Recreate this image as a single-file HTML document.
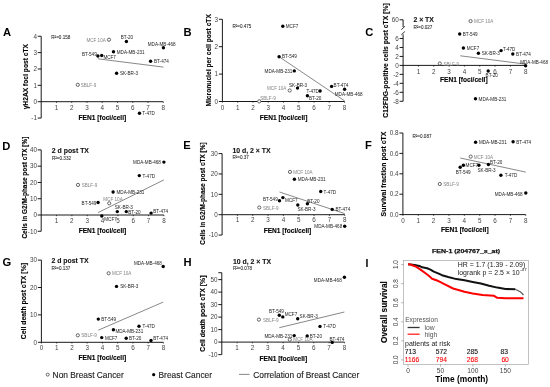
<!DOCTYPE html><html><head><meta charset="utf-8"><style>html,body{margin:0;padding:0;background:#fff;}svg{display:block;filter:blur(0.3px);}</style></head><body>
<svg width="550" height="387" viewBox="0 0 550 387" font-family='"Liberation Sans", sans-serif'>
<style>.ax{font-weight:bold;fill:#000;stroke:#000;stroke-width:0.12px}.lb{fill:#222}.lg{fill:#858585}.tk{fill:#444}.r2{fill:#222;stroke:#222;stroke-width:0.05px}.tt{font-weight:bold;fill:#111;stroke:#111;stroke-width:0.1px}</style>
<rect width="550" height="387" fill="#fff"/>
<text x="3" y="35.92" font-size="11.2" font-weight="bold" fill="#000">A</text>
<line x1="41.2" y1="36.26" x2="41.2" y2="118.06" stroke="#000" stroke-width="0.9"/>
<line x1="37.7" y1="36.26" x2="41.2" y2="36.26" stroke="#000" stroke-width="0.9"/>
<text class="tk" x="36.9" y="38.53" font-size="6.3" text-anchor="end">4</text>
<line x1="37.7" y1="52.62" x2="41.2" y2="52.62" stroke="#000" stroke-width="0.9"/>
<text class="tk" x="36.9" y="54.89" font-size="6.3" text-anchor="end">3</text>
<line x1="37.7" y1="68.98" x2="41.2" y2="68.98" stroke="#000" stroke-width="0.9"/>
<text class="tk" x="36.9" y="71.25" font-size="6.3" text-anchor="end">2</text>
<line x1="37.7" y1="85.34" x2="41.2" y2="85.34" stroke="#000" stroke-width="0.9"/>
<text class="tk" x="36.9" y="87.61" font-size="6.3" text-anchor="end">1</text>
<line x1="37.7" y1="101.7" x2="41.2" y2="101.7" stroke="#000" stroke-width="0.9"/>
<text class="tk" x="36.9" y="103.97" font-size="6.3" text-anchor="end">0</text>
<line x1="37.7" y1="118.06" x2="41.2" y2="118.06" stroke="#000" stroke-width="0.9"/>
<text class="tk" x="36.9" y="120.33" font-size="6.3" text-anchor="end">-1</text>
<line x1="41.2" y1="101.7" x2="163.28" y2="101.7" stroke="#000" stroke-width="0.9"/>
<line x1="56.46" y1="101.7" x2="56.46" y2="102.9" stroke="#000" stroke-width="0.7"/>
<text class="tk" x="56.46" y="109.87" font-size="6.3" text-anchor="middle">1</text>
<line x1="71.72" y1="101.7" x2="71.72" y2="102.9" stroke="#000" stroke-width="0.7"/>
<text class="tk" x="71.72" y="109.87" font-size="6.3" text-anchor="middle">2</text>
<line x1="86.98" y1="101.7" x2="86.98" y2="102.9" stroke="#000" stroke-width="0.7"/>
<text class="tk" x="86.98" y="109.87" font-size="6.3" text-anchor="middle">3</text>
<line x1="102.24" y1="101.7" x2="102.24" y2="102.9" stroke="#000" stroke-width="0.7"/>
<text class="tk" x="102.24" y="109.87" font-size="6.3" text-anchor="middle">4</text>
<line x1="117.5" y1="101.7" x2="117.5" y2="102.9" stroke="#000" stroke-width="0.7"/>
<text class="tk" x="117.5" y="109.87" font-size="6.3" text-anchor="middle">5</text>
<line x1="132.76" y1="101.7" x2="132.76" y2="102.9" stroke="#000" stroke-width="0.7"/>
<text class="tk" x="132.76" y="109.87" font-size="6.3" text-anchor="middle">6</text>
<line x1="148.02" y1="101.7" x2="148.02" y2="102.9" stroke="#000" stroke-width="0.7"/>
<text class="tk" x="148.02" y="109.87" font-size="6.3" text-anchor="middle">7</text>
<line x1="163.28" y1="101.7" x2="163.28" y2="102.9" stroke="#000" stroke-width="0.7"/>
<text class="tk" x="163.28" y="109.87" font-size="6.3" text-anchor="middle">8</text>
<text class="ax" transform="translate(27.91,76.65) rotate(-90)" font-size="6.7" text-anchor="middle">γH2AX foci post cTX</text>
<text class="ax" x="102.4" y="119.88" font-size="6.6" text-anchor="middle">FEN1 [foci/cell]</text>
<text class="r2" x="51.3" y="38.96" font-size="4.6">R²=0.158</text>
<line x1="97.9" y1="58.8" x2="163.4" y2="67.1" stroke="#555" stroke-width="0.7"/>
<circle cx="109" cy="39.7" r="1.6" fill="#fff" stroke="#555" stroke-width="0.9"/>
<text class="lg" x="105.8" y="41.76" font-size="4.6" text-anchor="end">MCF 10A</text>
<circle cx="126.4" cy="41.5" r="1.7" fill="#000"/>
<text class="lb" x="120.8" y="38.86" font-size="4.6">BT-20</text>
<circle cx="163.4" cy="47.7" r="1.7" fill="#000"/>
<text class="lb" x="147.8" y="45.76" font-size="4.6">MDA-MB-468</text>
<circle cx="113.5" cy="51.7" r="1.7" fill="#000"/>
<text class="lb" x="116.8" y="53.76" font-size="4.6">MDA-MB-231</text>
<circle cx="97.9" cy="56" r="1.7" fill="#000"/>
<text class="lb" x="96.7" y="56.36" font-size="4.6" text-anchor="end">BT-549</text>
<circle cx="101.7" cy="55.5" r="1.7" fill="#000"/>
<text class="lb" x="103.4" y="59.46" font-size="4.6">MCF7</text>
<circle cx="150.6" cy="61.2" r="1.7" fill="#000"/>
<text class="lb" x="154" y="63.26" font-size="4.6">BT-474</text>
<circle cx="116.6" cy="73.2" r="1.7" fill="#000"/>
<text class="lb" x="119.9" y="75.26" font-size="4.6">SK-BR-3</text>
<circle cx="77.8" cy="84.8" r="1.6" fill="#fff" stroke="#555" stroke-width="0.9"/>
<text class="lg" x="80.7" y="86.86" font-size="4.6">SBLF-9</text>
<circle cx="139.5" cy="113.3" r="1.7" fill="#000"/>
<text class="lb" x="142.3" y="115.36" font-size="4.6">T-47D</text>
<text x="183.5" y="35.92" font-size="11.2" font-weight="bold" fill="#000">B</text>
<line x1="222.4" y1="19.3" x2="222.4" y2="101.5" stroke="#000" stroke-width="0.9"/>
<line x1="218.9" y1="19.3" x2="222.4" y2="19.3" stroke="#000" stroke-width="0.9"/>
<text class="tk" x="218.1" y="21.57" font-size="6.3" text-anchor="end">3</text>
<line x1="218.9" y1="46.7" x2="222.4" y2="46.7" stroke="#000" stroke-width="0.9"/>
<text class="tk" x="218.1" y="48.97" font-size="6.3" text-anchor="end">2</text>
<line x1="218.9" y1="74.1" x2="222.4" y2="74.1" stroke="#000" stroke-width="0.9"/>
<text class="tk" x="218.1" y="76.37" font-size="6.3" text-anchor="end">1</text>
<line x1="218.9" y1="101.5" x2="222.4" y2="101.5" stroke="#000" stroke-width="0.9"/>
<text class="tk" x="218.1" y="103.77" font-size="6.3" text-anchor="end">0</text>
<line x1="222.4" y1="101.5" x2="344.56" y2="101.5" stroke="#000" stroke-width="0.9"/>
<line x1="222.4" y1="101.5" x2="222.4" y2="102.7" stroke="#000" stroke-width="0.7"/>
<text class="tk" x="222.4" y="109.77" font-size="6.3" text-anchor="middle">0</text>
<line x1="237.67" y1="101.5" x2="237.67" y2="102.7" stroke="#000" stroke-width="0.7"/>
<text class="tk" x="237.67" y="109.77" font-size="6.3" text-anchor="middle">1</text>
<line x1="252.94" y1="101.5" x2="252.94" y2="102.7" stroke="#000" stroke-width="0.7"/>
<text class="tk" x="252.94" y="109.77" font-size="6.3" text-anchor="middle">2</text>
<line x1="268.21" y1="101.5" x2="268.21" y2="102.7" stroke="#000" stroke-width="0.7"/>
<text class="tk" x="268.21" y="109.77" font-size="6.3" text-anchor="middle">3</text>
<line x1="283.48" y1="101.5" x2="283.48" y2="102.7" stroke="#000" stroke-width="0.7"/>
<text class="tk" x="283.48" y="109.77" font-size="6.3" text-anchor="middle">4</text>
<line x1="298.75" y1="101.5" x2="298.75" y2="102.7" stroke="#000" stroke-width="0.7"/>
<text class="tk" x="298.75" y="109.77" font-size="6.3" text-anchor="middle">5</text>
<line x1="314.02" y1="101.5" x2="314.02" y2="102.7" stroke="#000" stroke-width="0.7"/>
<text class="tk" x="314.02" y="109.77" font-size="6.3" text-anchor="middle">6</text>
<line x1="329.29" y1="101.5" x2="329.29" y2="102.7" stroke="#000" stroke-width="0.7"/>
<text class="tk" x="329.29" y="109.77" font-size="6.3" text-anchor="middle">7</text>
<line x1="344.56" y1="101.5" x2="344.56" y2="102.7" stroke="#000" stroke-width="0.7"/>
<text class="tk" x="344.56" y="109.77" font-size="6.3" text-anchor="middle">8</text>
<text class="ax" transform="translate(210.51,60.35) rotate(-90)" font-size="6.7" text-anchor="middle">Micronuclei per cell post cTX</text>
<text class="ax" x="283.6" y="119.78" font-size="6.6" text-anchor="middle">FEN1 [foci/cell]</text>
<text class="r2" x="232.4" y="28.26" font-size="4.6">R²=0.475</text>
<line x1="279.1" y1="56.7" x2="344.6" y2="100.9" stroke="#555" stroke-width="0.7"/>
<circle cx="282.8" cy="26.3" r="1.7" fill="#000"/>
<text class="lb" x="285.8" y="28.36" font-size="4.6">MCF7</text>
<circle cx="279.1" cy="56.7" r="1.7" fill="#000"/>
<text class="lb" x="282" y="57.76" font-size="4.6">BT-549</text>
<circle cx="294.3" cy="70.9" r="1.7" fill="#000"/>
<text class="lb" x="292.4" y="72.96" font-size="4.6" text-anchor="end">MDA-MB-231</text>
<circle cx="297.5" cy="88.1" r="1.7" fill="#000"/>
<text class="lb" x="289" y="86.86" font-size="4.6">SK-BR-3</text>
<circle cx="289.7" cy="90.5" r="1.6" fill="#fff" stroke="#555" stroke-width="0.9"/>
<text class="lg" x="286.4" y="90.26" font-size="4.6" text-anchor="end">MCF 10A</text>
<circle cx="320.1" cy="91" r="1.7" fill="#000"/>
<text class="lb" x="318.9" y="92.96" font-size="4.6" text-anchor="end">T-47D</text>
<circle cx="307.4" cy="95.7" r="1.7" fill="#000"/>
<text class="lb" x="309" y="99.96" font-size="4.6">BT-20</text>
<circle cx="331.6" cy="86.4" r="1.7" fill="#000"/>
<text class="lb" x="333.6" y="87.06" font-size="4.6">BT-474</text>
<circle cx="344.6" cy="89.3" r="1.7" fill="#000"/>
<text class="lb" x="334.8" y="95.56" font-size="4.6">MDA-MB-468</text>
<circle cx="259.2" cy="101.4" r="1.6" fill="#fff" stroke="#555" stroke-width="0.9"/>
<text class="lg" x="260.2" y="99.56" font-size="4.6">SBLF-9</text>
<text x="365.3" y="35.92" font-size="11.2" font-weight="bold" fill="#000">C</text>
<line x1="403.1" y1="101.29" x2="403.1" y2="34.4" stroke="#000" stroke-width="0.9"/>
<line x1="401.3" y1="29.7" x2="404.9" y2="26.3" stroke="#000" stroke-width="0.8"/>
<line x1="401.3" y1="34.8" x2="404.9" y2="31.5" stroke="#000" stroke-width="0.8"/>
<line x1="403.1" y1="19.8" x2="403.1" y2="27" stroke="#000" stroke-width="0.9"/>
<line x1="399.6" y1="19.8" x2="403.1" y2="19.8" stroke="#000" stroke-width="0.9"/>
<text class="tk" x="398.8" y="22.07" font-size="6.3" text-anchor="end">60</text>
<line x1="399.6" y1="38.48" x2="403.1" y2="38.48" stroke="#000" stroke-width="0.9"/>
<text class="tk" x="398.8" y="40.75" font-size="6.3" text-anchor="end">6</text>
<line x1="399.6" y1="47.46" x2="403.1" y2="47.46" stroke="#000" stroke-width="0.9"/>
<text class="tk" x="398.8" y="49.72" font-size="6.3" text-anchor="end">4</text>
<line x1="399.6" y1="56.43" x2="403.1" y2="56.43" stroke="#000" stroke-width="0.9"/>
<text class="tk" x="398.8" y="58.7" font-size="6.3" text-anchor="end">2</text>
<line x1="399.6" y1="65.4" x2="403.1" y2="65.4" stroke="#000" stroke-width="0.9"/>
<text class="tk" x="398.8" y="67.67" font-size="6.3" text-anchor="end">0</text>
<line x1="399.6" y1="74.37" x2="403.1" y2="74.37" stroke="#000" stroke-width="0.9"/>
<text class="tk" x="398.8" y="76.64" font-size="6.3" text-anchor="end">-2</text>
<line x1="399.6" y1="83.34" x2="403.1" y2="83.34" stroke="#000" stroke-width="0.9"/>
<text class="tk" x="398.8" y="85.61" font-size="6.3" text-anchor="end">-4</text>
<line x1="399.6" y1="92.32" x2="403.1" y2="92.32" stroke="#000" stroke-width="0.9"/>
<text class="tk" x="398.8" y="94.58" font-size="6.3" text-anchor="end">-6</text>
<line x1="399.6" y1="101.29" x2="403.1" y2="101.29" stroke="#000" stroke-width="0.9"/>
<text class="tk" x="398.8" y="103.56" font-size="6.3" text-anchor="end">-8</text>
<line x1="403.1" y1="65.4" x2="525.74" y2="65.4" stroke="#000" stroke-width="0.9"/>
<line x1="418.43" y1="65.4" x2="418.43" y2="66.6" stroke="#000" stroke-width="0.7"/>
<text class="tk" x="418.43" y="73.77" font-size="6.3" text-anchor="middle">1</text>
<line x1="433.76" y1="65.4" x2="433.76" y2="66.6" stroke="#000" stroke-width="0.7"/>
<text class="tk" x="433.76" y="73.77" font-size="6.3" text-anchor="middle">2</text>
<line x1="449.09" y1="65.4" x2="449.09" y2="66.6" stroke="#000" stroke-width="0.7"/>
<text class="tk" x="449.09" y="73.77" font-size="6.3" text-anchor="middle">3</text>
<line x1="464.42" y1="65.4" x2="464.42" y2="66.6" stroke="#000" stroke-width="0.7"/>
<text class="tk" x="464.42" y="73.77" font-size="6.3" text-anchor="middle">4</text>
<line x1="479.75" y1="65.4" x2="479.75" y2="66.6" stroke="#000" stroke-width="0.7"/>
<text class="tk" x="479.75" y="73.77" font-size="6.3" text-anchor="middle">5</text>
<line x1="495.08" y1="65.4" x2="495.08" y2="66.6" stroke="#000" stroke-width="0.7"/>
<text class="tk" x="495.08" y="73.77" font-size="6.3" text-anchor="middle">6</text>
<line x1="510.41" y1="65.4" x2="510.41" y2="66.6" stroke="#000" stroke-width="0.7"/>
<text class="tk" x="510.41" y="73.77" font-size="6.3" text-anchor="middle">7</text>
<line x1="525.74" y1="65.4" x2="525.74" y2="66.6" stroke="#000" stroke-width="0.7"/>
<text class="tk" x="525.74" y="73.77" font-size="6.3" text-anchor="middle">8</text>
<text class="ax" transform="translate(388.44,60.5) rotate(-90)" font-size="6.78" text-anchor="middle">C12FDG-positive cells post cTX [%]</text>
<text class="ax" x="463.8" y="82.18" font-size="6.6" text-anchor="middle">FEN1 [foci/cell]</text>
<text class="tt" x="413.4" y="22.28" font-size="6.9">2 × TX</text>
<text class="r2" x="413.4" y="29.26" font-size="4.6">R²=0.027</text>
<line x1="460.3" y1="55.8" x2="525.7" y2="64.1" stroke="#555" stroke-width="0.7"/>
<circle cx="470.6" cy="21.1" r="1.6" fill="#fff" stroke="#555" stroke-width="0.9"/>
<text class="lg" x="474" y="23.16" font-size="4.6">MCF 10A</text>
<circle cx="459.7" cy="34" r="1.7" fill="#000"/>
<text class="lb" x="462.8" y="36.06" font-size="4.6">BT-549</text>
<circle cx="463.4" cy="48" r="1.7" fill="#000"/>
<text class="lb" x="466.7" y="50.06" font-size="4.6">MCF7</text>
<circle cx="478.4" cy="53.2" r="1.7" fill="#000"/>
<text class="lb" x="481.7" y="55.26" font-size="4.6">SK-BR-3</text>
<circle cx="501.1" cy="50.6" r="1.7" fill="#000"/>
<text class="lb" x="502.9" y="50.86" font-size="4.6">T-47D</text>
<circle cx="512.8" cy="54" r="1.7" fill="#000"/>
<text class="lb" x="516.1" y="56.06" font-size="4.6">BT-474</text>
<circle cx="525.6" cy="65.7" r="1.7" fill="#000"/>
<text class="lb" x="520.2" y="63.96" font-size="4.6">MDA-MB-468</text>
<circle cx="439.8" cy="63.5" r="1.6" fill="#fff" stroke="#555" stroke-width="0.9"/>
<text class="lg" x="443.4" y="65.56" font-size="4.6">SBLF-9</text>
<circle cx="488.2" cy="71" r="1.7" fill="#000"/>
<text class="lb" x="485.6" y="77.46" font-size="4.6">BT-20</text>
<circle cx="475.5" cy="98.7" r="1.7" fill="#000"/>
<text class="lb" x="478.6" y="100.76" font-size="4.6">MDA-MB-231</text>
<text x="2.3" y="149.62" font-size="11.2" font-weight="bold" fill="#000">D</text>
<line x1="41.2" y1="149.88" x2="41.2" y2="231.28" stroke="#000" stroke-width="0.9"/>
<line x1="37.7" y1="149.88" x2="41.2" y2="149.88" stroke="#000" stroke-width="0.9"/>
<text class="tk" x="36.9" y="152.15" font-size="6.3" text-anchor="end">40</text>
<line x1="37.7" y1="166.16" x2="41.2" y2="166.16" stroke="#000" stroke-width="0.9"/>
<text class="tk" x="36.9" y="168.43" font-size="6.3" text-anchor="end">30</text>
<line x1="37.7" y1="182.44" x2="41.2" y2="182.44" stroke="#000" stroke-width="0.9"/>
<text class="tk" x="36.9" y="184.71" font-size="6.3" text-anchor="end">20</text>
<line x1="37.7" y1="198.72" x2="41.2" y2="198.72" stroke="#000" stroke-width="0.9"/>
<text class="tk" x="36.9" y="200.99" font-size="6.3" text-anchor="end">10</text>
<line x1="37.7" y1="215" x2="41.2" y2="215" stroke="#000" stroke-width="0.9"/>
<text class="tk" x="36.9" y="217.27" font-size="6.3" text-anchor="end">0</text>
<line x1="37.7" y1="231.28" x2="41.2" y2="231.28" stroke="#000" stroke-width="0.9"/>
<text class="tk" x="36.9" y="233.55" font-size="6.3" text-anchor="end">-10</text>
<line x1="41.2" y1="215" x2="163.92" y2="215" stroke="#000" stroke-width="0.9"/>
<line x1="56.54" y1="215" x2="56.54" y2="216.2" stroke="#000" stroke-width="0.7"/>
<text class="tk" x="56.54" y="222.67" font-size="6.3" text-anchor="middle">1</text>
<line x1="71.88" y1="215" x2="71.88" y2="216.2" stroke="#000" stroke-width="0.7"/>
<text class="tk" x="71.88" y="222.67" font-size="6.3" text-anchor="middle">2</text>
<line x1="87.22" y1="215" x2="87.22" y2="216.2" stroke="#000" stroke-width="0.7"/>
<text class="tk" x="87.22" y="222.67" font-size="6.3" text-anchor="middle">3</text>
<line x1="102.56" y1="215" x2="102.56" y2="216.2" stroke="#000" stroke-width="0.7"/>
<text class="tk" x="102.56" y="222.67" font-size="6.3" text-anchor="middle">4</text>
<line x1="117.9" y1="215" x2="117.9" y2="216.2" stroke="#000" stroke-width="0.7"/>
<text class="tk" x="117.9" y="222.67" font-size="6.3" text-anchor="middle">5</text>
<line x1="133.24" y1="215" x2="133.24" y2="216.2" stroke="#000" stroke-width="0.7"/>
<text class="tk" x="133.24" y="222.67" font-size="6.3" text-anchor="middle">6</text>
<line x1="148.58" y1="215" x2="148.58" y2="216.2" stroke="#000" stroke-width="0.7"/>
<text class="tk" x="148.58" y="222.67" font-size="6.3" text-anchor="middle">7</text>
<line x1="163.92" y1="215" x2="163.92" y2="216.2" stroke="#000" stroke-width="0.7"/>
<text class="tk" x="163.92" y="222.67" font-size="6.3" text-anchor="middle">8</text>
<text class="ax" transform="translate(26.62,187.65) rotate(-90)" font-size="6.44" text-anchor="middle">Cells in G2/M-phase post cTX [%]</text>
<text class="ax" x="102.5" y="232.68" font-size="6.6" text-anchor="middle">FEN1 [foci/cell]</text>
<text class="tt" x="51.8" y="153.28" font-size="6.9">2 d post TX</text>
<text class="r2" x="52" y="159.56" font-size="4.6">R²=0.332</text>
<line x1="98.1" y1="212.6" x2="163.9" y2="179.9" stroke="#555" stroke-width="0.7"/>
<circle cx="163.9" cy="162.1" r="1.7" fill="#000"/>
<text class="lb" x="160.9" y="164.16" font-size="4.6" text-anchor="end">MDA-MB-468</text>
<circle cx="139.3" cy="175.6" r="1.7" fill="#000"/>
<text class="lb" x="142.5" y="177.66" font-size="4.6">T-47D</text>
<circle cx="78" cy="184.9" r="1.6" fill="#fff" stroke="#555" stroke-width="0.9"/>
<text class="lg" x="81.7" y="186.96" font-size="4.6">SBLF-9</text>
<circle cx="113.1" cy="192" r="1.7" fill="#000"/>
<text class="lb" x="116.5" y="194.06" font-size="4.6">MDA-MB-231</text>
<circle cx="109.2" cy="203.3" r="1.6" fill="#fff" stroke="#555" stroke-width="0.9"/>
<text class="lg" x="103.3" y="201.46" font-size="4.6">MCF 10A</text>
<circle cx="98.1" cy="202.5" r="1.7" fill="#000"/>
<text class="lb" x="96.4" y="204.56" font-size="4.6" text-anchor="end">BT-549</text>
<circle cx="117.3" cy="211.6" r="1.7" fill="#000"/>
<text class="lb" x="114.8" y="208.76" font-size="4.6">SK-BR-3</text>
<circle cx="126.3" cy="211.6" r="1.7" fill="#000"/>
<text class="lb" x="128.3" y="213.66" font-size="4.6">BT-20</text>
<circle cx="101.8" cy="216" r="1.7" fill="#000"/>
<text class="lb" x="104.3" y="220.56" font-size="4.6">MCF7</text>
<circle cx="151.1" cy="213.1" r="1.7" fill="#000"/>
<text class="lb" x="153.3" y="213.16" font-size="4.6">BT-474</text>
<text x="183.3" y="149.42" font-size="11.2" font-weight="bold" fill="#000">E</text>
<line x1="222.1" y1="153.59" x2="222.1" y2="235.07" stroke="#000" stroke-width="0.9"/>
<line x1="218.6" y1="153.59" x2="222.1" y2="153.59" stroke="#000" stroke-width="0.9"/>
<text class="tk" x="217.8" y="155.86" font-size="6.3" text-anchor="end">30</text>
<line x1="218.6" y1="173.96" x2="222.1" y2="173.96" stroke="#000" stroke-width="0.9"/>
<text class="tk" x="217.8" y="176.23" font-size="6.3" text-anchor="end">20</text>
<line x1="218.6" y1="194.33" x2="222.1" y2="194.33" stroke="#000" stroke-width="0.9"/>
<text class="tk" x="217.8" y="196.6" font-size="6.3" text-anchor="end">10</text>
<line x1="218.6" y1="214.7" x2="222.1" y2="214.7" stroke="#000" stroke-width="0.9"/>
<text class="tk" x="217.8" y="216.97" font-size="6.3" text-anchor="end">0</text>
<line x1="218.6" y1="235.07" x2="222.1" y2="235.07" stroke="#000" stroke-width="0.9"/>
<text class="tk" x="217.8" y="237.34" font-size="6.3" text-anchor="end">-10</text>
<line x1="222.1" y1="214.7" x2="344.74" y2="214.7" stroke="#000" stroke-width="0.9"/>
<line x1="237.43" y1="214.7" x2="237.43" y2="215.9" stroke="#000" stroke-width="0.7"/>
<text class="tk" x="237.43" y="222.17" font-size="6.3" text-anchor="middle">1</text>
<line x1="252.76" y1="214.7" x2="252.76" y2="215.9" stroke="#000" stroke-width="0.7"/>
<text class="tk" x="252.76" y="222.17" font-size="6.3" text-anchor="middle">2</text>
<line x1="268.09" y1="214.7" x2="268.09" y2="215.9" stroke="#000" stroke-width="0.7"/>
<text class="tk" x="268.09" y="222.17" font-size="6.3" text-anchor="middle">3</text>
<line x1="283.42" y1="214.7" x2="283.42" y2="215.9" stroke="#000" stroke-width="0.7"/>
<text class="tk" x="283.42" y="222.17" font-size="6.3" text-anchor="middle">4</text>
<line x1="298.75" y1="214.7" x2="298.75" y2="215.9" stroke="#000" stroke-width="0.7"/>
<text class="tk" x="298.75" y="222.17" font-size="6.3" text-anchor="middle">5</text>
<line x1="314.08" y1="214.7" x2="314.08" y2="215.9" stroke="#000" stroke-width="0.7"/>
<text class="tk" x="314.08" y="222.17" font-size="6.3" text-anchor="middle">6</text>
<line x1="329.41" y1="214.7" x2="329.41" y2="215.9" stroke="#000" stroke-width="0.7"/>
<text class="tk" x="329.41" y="222.17" font-size="6.3" text-anchor="middle">7</text>
<line x1="344.74" y1="214.7" x2="344.74" y2="215.9" stroke="#000" stroke-width="0.7"/>
<text class="tk" x="344.74" y="222.17" font-size="6.3" text-anchor="middle">8</text>
<text class="ax" transform="translate(205.33,193.55) rotate(-90)" font-size="6.47" text-anchor="middle">Cells in G2/M-phase post cTX [%]</text>
<text class="ax" x="287.5" y="232.68" font-size="6.6" text-anchor="middle">FEN1 [foci/cell]</text>
<text class="tt" x="232.4" y="153.48" font-size="6.9">10 d, 2 × TX</text>
<text class="r2" x="232.4" y="159.36" font-size="4.6">R²=0.37</text>
<line x1="279.5" y1="192" x2="344.7" y2="213.6" stroke="#555" stroke-width="0.7"/>
<circle cx="290" cy="171.9" r="1.6" fill="#fff" stroke="#555" stroke-width="0.9"/>
<text class="lg" x="293.2" y="173.96" font-size="4.6">MCF 10A</text>
<circle cx="294.4" cy="179.2" r="1.7" fill="#000"/>
<text class="lb" x="297.8" y="181.26" font-size="4.6">MDA-MB-231</text>
<circle cx="320.7" cy="191.5" r="1.7" fill="#000"/>
<text class="lb" x="323.6" y="193.56" font-size="4.6">T-47D</text>
<circle cx="279.5" cy="200.8" r="1.7" fill="#000"/>
<text class="lb" x="277.7" y="201.06" font-size="4.6" text-anchor="end">BT-549</text>
<circle cx="282.9" cy="197.6" r="1.7" fill="#000"/>
<text class="lb" x="285.1" y="201.66" font-size="4.6">MCF7</text>
<circle cx="307.4" cy="203.8" r="1.7" fill="#000"/>
<text class="lb" x="307.2" y="202.86" font-size="4.6">BT-20</text>
<circle cx="297.8" cy="205" r="1.7" fill="#000"/>
<text class="lb" x="297.4" y="210.76" font-size="4.6">SK-BR-3</text>
<circle cx="259.3" cy="207.5" r="1.6" fill="#fff" stroke="#555" stroke-width="0.9"/>
<text class="lg" x="263" y="209.56" font-size="4.6">SBLF-9</text>
<circle cx="332.2" cy="209.4" r="1.7" fill="#000"/>
<text class="lb" x="335.4" y="211.46" font-size="4.6">BT-474</text>
<circle cx="344.7" cy="226.3" r="1.7" fill="#000"/>
<text class="lb" x="342.2" y="228.36" font-size="4.6" text-anchor="end">MDA-MB-468</text>
<text x="365" y="149.32" font-size="11.2" font-weight="bold" fill="#000">F</text>
<line x1="402.9" y1="133" x2="402.9" y2="214.6" stroke="#000" stroke-width="0.9"/>
<line x1="399.4" y1="133" x2="402.9" y2="133" stroke="#000" stroke-width="0.9"/>
<text class="tk" x="398.6" y="135.27" font-size="6.3" text-anchor="end">0.8</text>
<line x1="399.4" y1="153.4" x2="402.9" y2="153.4" stroke="#000" stroke-width="0.9"/>
<text class="tk" x="398.6" y="155.67" font-size="6.3" text-anchor="end">0.6</text>
<line x1="399.4" y1="173.8" x2="402.9" y2="173.8" stroke="#000" stroke-width="0.9"/>
<text class="tk" x="398.6" y="176.07" font-size="6.3" text-anchor="end">0.4</text>
<line x1="399.4" y1="194.2" x2="402.9" y2="194.2" stroke="#000" stroke-width="0.9"/>
<text class="tk" x="398.6" y="196.47" font-size="6.3" text-anchor="end">0.2</text>
<line x1="399.4" y1="214.6" x2="402.9" y2="214.6" stroke="#000" stroke-width="0.9"/>
<text class="tk" x="398.6" y="216.87" font-size="6.3" text-anchor="end">0.0</text>
<line x1="402.9" y1="214.6" x2="525.78" y2="214.6" stroke="#000" stroke-width="0.9"/>
<line x1="402.9" y1="214.6" x2="402.9" y2="215.8" stroke="#000" stroke-width="0.7"/>
<text class="tk" x="402.9" y="222.67" font-size="6.3" text-anchor="middle">0</text>
<line x1="418.26" y1="214.6" x2="418.26" y2="215.8" stroke="#000" stroke-width="0.7"/>
<text class="tk" x="418.26" y="222.67" font-size="6.3" text-anchor="middle">1</text>
<line x1="433.62" y1="214.6" x2="433.62" y2="215.8" stroke="#000" stroke-width="0.7"/>
<text class="tk" x="433.62" y="222.67" font-size="6.3" text-anchor="middle">2</text>
<line x1="448.98" y1="214.6" x2="448.98" y2="215.8" stroke="#000" stroke-width="0.7"/>
<text class="tk" x="448.98" y="222.67" font-size="6.3" text-anchor="middle">3</text>
<line x1="464.34" y1="214.6" x2="464.34" y2="215.8" stroke="#000" stroke-width="0.7"/>
<text class="tk" x="464.34" y="222.67" font-size="6.3" text-anchor="middle">4</text>
<line x1="479.7" y1="214.6" x2="479.7" y2="215.8" stroke="#000" stroke-width="0.7"/>
<text class="tk" x="479.7" y="222.67" font-size="6.3" text-anchor="middle">5</text>
<line x1="495.06" y1="214.6" x2="495.06" y2="215.8" stroke="#000" stroke-width="0.7"/>
<text class="tk" x="495.06" y="222.67" font-size="6.3" text-anchor="middle">6</text>
<line x1="510.42" y1="214.6" x2="510.42" y2="215.8" stroke="#000" stroke-width="0.7"/>
<text class="tk" x="510.42" y="222.67" font-size="6.3" text-anchor="middle">7</text>
<line x1="525.78" y1="214.6" x2="525.78" y2="215.8" stroke="#000" stroke-width="0.7"/>
<text class="tk" x="525.78" y="222.67" font-size="6.3" text-anchor="middle">8</text>
<text class="ax" transform="translate(386.18,174) rotate(-90)" font-size="6.88" text-anchor="middle">Survival fraction post cTX</text>
<text class="ax" x="464.8" y="232.28" font-size="6.6" text-anchor="middle">FEN1 [foci/cell]</text>
<text class="r2" x="412.5" y="138.06" font-size="4.6">R²=0.087</text>
<line x1="460.2" y1="158" x2="525.8" y2="172.1" stroke="#555" stroke-width="0.7"/>
<circle cx="475.6" cy="142.2" r="1.7" fill="#000"/>
<text class="lb" x="478.9" y="144.26" font-size="4.6">MDA-MB-231</text>
<circle cx="513.1" cy="141.7" r="1.7" fill="#000"/>
<text class="lb" x="516.3" y="143.76" font-size="4.6">BT-474</text>
<circle cx="470.7" cy="156.6" r="1.6" fill="#fff" stroke="#555" stroke-width="0.9"/>
<text class="lg" x="473.7" y="158.66" font-size="4.6">MCF 10A</text>
<circle cx="463.4" cy="165.3" r="1.7" fill="#000"/>
<text class="lb" x="465.6" y="166.56" font-size="4.6">MCF7</text>
<circle cx="460.2" cy="167.2" r="1.7" fill="#000"/>
<text class="lb" x="455.8" y="174.16" font-size="4.6">BT-549</text>
<circle cx="478.9" cy="165.3" r="1.7" fill="#000"/>
<text class="lb" x="477.5" y="171.96" font-size="4.6">SK-BR-3</text>
<circle cx="488.4" cy="164.5" r="1.7" fill="#000"/>
<text class="lb" x="490" y="164.06" font-size="4.6">BT-20</text>
<circle cx="500.9" cy="175.3" r="1.7" fill="#000"/>
<text class="lb" x="504.7" y="177.36" font-size="4.6">T-47D</text>
<circle cx="439.8" cy="184" r="1.6" fill="#fff" stroke="#555" stroke-width="0.9"/>
<text class="lg" x="443.3" y="186.06" font-size="4.6">SBLF-9</text>
<circle cx="525.8" cy="193" r="1.7" fill="#000"/>
<text class="lb" x="522.6" y="196.06" font-size="4.6" text-anchor="end">MDA-MB-468</text>
<text x="2.4" y="266.22" font-size="11.2" font-weight="bold" fill="#000">G</text>
<line x1="41.4" y1="260.1" x2="41.4" y2="342.3" stroke="#000" stroke-width="0.9"/>
<line x1="37.9" y1="260.1" x2="41.4" y2="260.1" stroke="#000" stroke-width="0.9"/>
<text class="tk" x="37.1" y="262.37" font-size="6.3" text-anchor="end">30</text>
<line x1="37.9" y1="287.5" x2="41.4" y2="287.5" stroke="#000" stroke-width="0.9"/>
<text class="tk" x="37.1" y="289.77" font-size="6.3" text-anchor="end">20</text>
<line x1="37.9" y1="314.9" x2="41.4" y2="314.9" stroke="#000" stroke-width="0.9"/>
<text class="tk" x="37.1" y="317.17" font-size="6.3" text-anchor="end">10</text>
<line x1="37.9" y1="342.3" x2="41.4" y2="342.3" stroke="#000" stroke-width="0.9"/>
<text class="tk" x="37.1" y="344.57" font-size="6.3" text-anchor="end">0</text>
<line x1="41.4" y1="342.3" x2="163.4" y2="342.3" stroke="#000" stroke-width="0.9"/>
<line x1="41.4" y1="342.3" x2="41.4" y2="343.5" stroke="#000" stroke-width="0.7"/>
<text class="tk" x="41.4" y="350.07" font-size="6.3" text-anchor="middle">0</text>
<line x1="56.65" y1="342.3" x2="56.65" y2="343.5" stroke="#000" stroke-width="0.7"/>
<text class="tk" x="56.65" y="350.07" font-size="6.3" text-anchor="middle">1</text>
<line x1="71.9" y1="342.3" x2="71.9" y2="343.5" stroke="#000" stroke-width="0.7"/>
<text class="tk" x="71.9" y="350.07" font-size="6.3" text-anchor="middle">2</text>
<line x1="87.15" y1="342.3" x2="87.15" y2="343.5" stroke="#000" stroke-width="0.7"/>
<text class="tk" x="87.15" y="350.07" font-size="6.3" text-anchor="middle">3</text>
<line x1="102.4" y1="342.3" x2="102.4" y2="343.5" stroke="#000" stroke-width="0.7"/>
<text class="tk" x="102.4" y="350.07" font-size="6.3" text-anchor="middle">4</text>
<line x1="117.65" y1="342.3" x2="117.65" y2="343.5" stroke="#000" stroke-width="0.7"/>
<text class="tk" x="117.65" y="350.07" font-size="6.3" text-anchor="middle">5</text>
<line x1="132.9" y1="342.3" x2="132.9" y2="343.5" stroke="#000" stroke-width="0.7"/>
<text class="tk" x="132.9" y="350.07" font-size="6.3" text-anchor="middle">6</text>
<line x1="148.15" y1="342.3" x2="148.15" y2="343.5" stroke="#000" stroke-width="0.7"/>
<text class="tk" x="148.15" y="350.07" font-size="6.3" text-anchor="middle">7</text>
<line x1="163.4" y1="342.3" x2="163.4" y2="343.5" stroke="#000" stroke-width="0.7"/>
<text class="tk" x="163.4" y="350.07" font-size="6.3" text-anchor="middle">8</text>
<text class="ax" transform="translate(26.08,301.1) rotate(-90)" font-size="6.875" text-anchor="middle">Cell death post cTX [%]</text>
<text class="ax" x="102.4" y="360.28" font-size="6.6" text-anchor="middle">FEN1 [foci/cell]</text>
<text class="tt" x="51.4" y="263.38" font-size="6.9">2 d post TX</text>
<text class="r2" x="51.4" y="270.46" font-size="4.6">R²=0.137</text>
<line x1="98.3" y1="330.2" x2="163.2" y2="302.1" stroke="#555" stroke-width="0.7"/>
<circle cx="163.2" cy="266.5" r="1.7" fill="#000"/>
<text class="lb" x="161.8" y="265.16" font-size="4.6" text-anchor="end">MDA-MB-468</text>
<circle cx="108.6" cy="273.3" r="1.6" fill="#fff" stroke="#555" stroke-width="0.9"/>
<text class="lg" x="112" y="275.36" font-size="4.6">MCF 10A</text>
<circle cx="116.5" cy="286.4" r="1.7" fill="#000"/>
<text class="lb" x="120.2" y="288.46" font-size="4.6">SK-BR-3</text>
<circle cx="98.3" cy="319.1" r="1.7" fill="#000"/>
<text class="lb" x="101.2" y="321.16" font-size="4.6">BT-549</text>
<circle cx="139" cy="326.2" r="1.7" fill="#000"/>
<text class="lb" x="142.4" y="328.26" font-size="4.6">T-47D</text>
<circle cx="113.4" cy="329.7" r="1.7" fill="#000"/>
<text class="lb" x="115.4" y="333.16" font-size="4.6">MDA-MB-231</text>
<circle cx="77.8" cy="335.3" r="1.6" fill="#fff" stroke="#555" stroke-width="0.9"/>
<text class="lg" x="81.3" y="337.36" font-size="4.6">SBLF-9</text>
<circle cx="101.7" cy="337.6" r="1.7" fill="#000"/>
<text class="lb" x="104.9" y="339.66" font-size="4.6">MCF7</text>
<circle cx="126.2" cy="338.2" r="1.7" fill="#000"/>
<text class="lb" x="129" y="340.26" font-size="4.6">BT-20</text>
<circle cx="151" cy="340.5" r="1.7" fill="#000"/>
<text class="lb" x="153.2" y="340.26" font-size="4.6">BT-474</text>
<text x="183.5" y="266.42" font-size="11.2" font-weight="bold" fill="#000">H</text>
<line x1="221.8" y1="272.73" x2="221.8" y2="354.6" stroke="#000" stroke-width="0.9"/>
<line x1="218.3" y1="279.6" x2="221.8" y2="279.6" stroke="#000" stroke-width="0.9"/>
<text class="tk" x="217.5" y="281.87" font-size="6.3" text-anchor="end">50</text>
<line x1="218.3" y1="292.1" x2="221.8" y2="292.1" stroke="#000" stroke-width="0.9"/>
<text class="tk" x="217.5" y="294.37" font-size="6.3" text-anchor="end">40</text>
<line x1="218.3" y1="304.6" x2="221.8" y2="304.6" stroke="#000" stroke-width="0.9"/>
<text class="tk" x="217.5" y="306.87" font-size="6.3" text-anchor="end">30</text>
<line x1="218.3" y1="317.1" x2="221.8" y2="317.1" stroke="#000" stroke-width="0.9"/>
<text class="tk" x="217.5" y="319.37" font-size="6.3" text-anchor="end">20</text>
<line x1="218.3" y1="329.6" x2="221.8" y2="329.6" stroke="#000" stroke-width="0.9"/>
<text class="tk" x="217.5" y="331.87" font-size="6.3" text-anchor="end">10</text>
<line x1="218.3" y1="342.1" x2="221.8" y2="342.1" stroke="#000" stroke-width="0.9"/>
<text class="tk" x="217.5" y="344.37" font-size="6.3" text-anchor="end">0</text>
<line x1="218.3" y1="354.6" x2="221.8" y2="354.6" stroke="#000" stroke-width="0.9"/>
<text class="tk" x="217.5" y="356.87" font-size="6.3" text-anchor="end">-10</text>
<line x1="221.8" y1="342.1" x2="344.44" y2="342.1" stroke="#000" stroke-width="0.9"/>
<line x1="237.13" y1="342.1" x2="237.13" y2="343.3" stroke="#000" stroke-width="0.7"/>
<text class="tk" x="237.13" y="350.47" font-size="6.3" text-anchor="middle">1</text>
<line x1="252.46" y1="342.1" x2="252.46" y2="343.3" stroke="#000" stroke-width="0.7"/>
<text class="tk" x="252.46" y="350.47" font-size="6.3" text-anchor="middle">2</text>
<line x1="267.79" y1="342.1" x2="267.79" y2="343.3" stroke="#000" stroke-width="0.7"/>
<text class="tk" x="267.79" y="350.47" font-size="6.3" text-anchor="middle">3</text>
<line x1="283.12" y1="342.1" x2="283.12" y2="343.3" stroke="#000" stroke-width="0.7"/>
<text class="tk" x="283.12" y="350.47" font-size="6.3" text-anchor="middle">4</text>
<line x1="298.45" y1="342.1" x2="298.45" y2="343.3" stroke="#000" stroke-width="0.7"/>
<text class="tk" x="298.45" y="350.47" font-size="6.3" text-anchor="middle">5</text>
<line x1="313.78" y1="342.1" x2="313.78" y2="343.3" stroke="#000" stroke-width="0.7"/>
<text class="tk" x="313.78" y="350.47" font-size="6.3" text-anchor="middle">6</text>
<line x1="329.11" y1="342.1" x2="329.11" y2="343.3" stroke="#000" stroke-width="0.7"/>
<text class="tk" x="329.11" y="350.47" font-size="6.3" text-anchor="middle">7</text>
<line x1="344.44" y1="342.1" x2="344.44" y2="343.3" stroke="#000" stroke-width="0.7"/>
<text class="tk" x="344.44" y="350.47" font-size="6.3" text-anchor="middle">8</text>
<line x1="218.3" y1="272.73" x2="221.8" y2="272.73" stroke="#000" stroke-width="0.9"/>
<text class="ax" transform="translate(204.97,313.7) rotate(-90)" font-size="6.875" text-anchor="middle">Cell death post cTX [%]</text>
<text class="ax" x="283.3" y="360.88" font-size="6.6" text-anchor="middle">FEN1 [foci/cell]</text>
<text class="tt" x="233" y="263.68" font-size="6.9">10 d, 2 × TX</text>
<text class="r2" x="233" y="269.56" font-size="4.6">R²=0.078</text>
<line x1="279.3" y1="327.7" x2="344.4" y2="312" stroke="#555" stroke-width="0.7"/>
<circle cx="344.4" cy="277.3" r="1.7" fill="#000"/>
<text class="lb" x="341.7" y="282.06" font-size="4.6" text-anchor="end">MDA-MB-468</text>
<circle cx="279.3" cy="315.2" r="1.7" fill="#000"/>
<text class="lb" x="269" y="313.26" font-size="4.6">BT-549</text>
<circle cx="282.8" cy="316.9" r="1.7" fill="#000"/>
<text class="lb" x="284.7" y="315.96" font-size="4.6">MCF7</text>
<circle cx="297.7" cy="318.8" r="1.7" fill="#000"/>
<text class="lb" x="299.6" y="318.16" font-size="4.6">SK-BR-3</text>
<circle cx="258.9" cy="319.6" r="1.6" fill="#fff" stroke="#555" stroke-width="0.9"/>
<text class="lg" x="263" y="321.66" font-size="4.6">SBLF-9</text>
<circle cx="320" cy="326.4" r="1.7" fill="#000"/>
<text class="lb" x="323.2" y="328.46" font-size="4.6">T-47D</text>
<circle cx="294.2" cy="335.6" r="1.7" fill="#000"/>
<text class="lb" x="292.3" y="337.66" font-size="4.6" text-anchor="end">MDA-MB-231</text>
<circle cx="307.2" cy="335.9" r="1.7" fill="#000"/>
<text class="lb" x="309.7" y="337.96" font-size="4.6">BT-20</text>
<circle cx="289.8" cy="339.7" r="1.6" fill="#fff" stroke="#555" stroke-width="0.9"/>
<text class="lg" x="293.2" y="341.36" font-size="4.6">MCF 10A</text>
<circle cx="332.2" cy="342.4" r="1.7" fill="#000"/>
<text class="lb" x="329.5" y="340.66" font-size="4.6">BT-474</text>
<text x="365.6" y="266.52" font-size="10.5" font-weight="bold" fill="#000">I</text>
<text x="466.1" y="253.2" font-size="6.1" text-anchor="middle" font-weight="bold" fill="#111" stroke="#111" stroke-width="0.25" textLength="68" lengthAdjust="spacingAndGlyphs">FEN-1 (204767_s_at)</text>
<rect x="403.5" y="260.5" width="124.9" height="103.8" fill="none" stroke="#999" stroke-width="0.6"/>
<line x1="401" y1="264.6" x2="403.5" y2="264.6" stroke="#777" stroke-width="0.5"/>
<text transform="translate(398.2,264.6) rotate(-90)" font-size="6.4" text-anchor="middle" fill="#444">1.0</text>
<line x1="401" y1="283.66" x2="403.5" y2="283.66" stroke="#777" stroke-width="0.5"/>
<text transform="translate(398.2,283.66) rotate(-90)" font-size="6.4" text-anchor="middle" fill="#444">0.8</text>
<line x1="401" y1="302.72" x2="403.5" y2="302.72" stroke="#777" stroke-width="0.5"/>
<text transform="translate(398.2,302.72) rotate(-90)" font-size="6.4" text-anchor="middle" fill="#444">0.6</text>
<line x1="401" y1="321.78" x2="403.5" y2="321.78" stroke="#777" stroke-width="0.5"/>
<text transform="translate(398.2,321.78) rotate(-90)" font-size="6.4" text-anchor="middle" fill="#444">0.4</text>
<line x1="401" y1="340.84" x2="403.5" y2="340.84" stroke="#777" stroke-width="0.5"/>
<text transform="translate(398.2,340.84) rotate(-90)" font-size="6.4" text-anchor="middle" fill="#444">0.2</text>
<line x1="401" y1="359.9" x2="403.5" y2="359.9" stroke="#777" stroke-width="0.5"/>
<text transform="translate(398.2,359.9) rotate(-90)" font-size="6.4" text-anchor="middle" fill="#444">0.0</text>
<line x1="408" y1="364.3" x2="408" y2="366.6" stroke="#777" stroke-width="0.5"/>
<text x="408" y="372.98" font-size="6.6" text-anchor="middle" font-weight="normal" fill="#444">0</text>
<line x1="440.44" y1="364.3" x2="440.44" y2="366.6" stroke="#777" stroke-width="0.5"/>
<text x="440.44" y="372.98" font-size="6.6" text-anchor="middle" font-weight="normal" fill="#444">50</text>
<line x1="472.87" y1="364.3" x2="472.87" y2="366.6" stroke="#777" stroke-width="0.5"/>
<text x="472.87" y="372.98" font-size="6.6" text-anchor="middle" font-weight="normal" fill="#444">100</text>
<line x1="505.31" y1="364.3" x2="505.31" y2="366.6" stroke="#777" stroke-width="0.5"/>
<text x="505.31" y="372.98" font-size="6.6" text-anchor="middle" font-weight="normal" fill="#444">150</text>
<text class="ax" transform="translate(387.39,312) rotate(-90)" font-size="8.3" text-anchor="middle">Overall survival</text>
<text x="461.7" y="381.92" font-size="8.4" text-anchor="middle" font-weight="bold" fill="#000">Time (month)</text>
<text x="457.7" y="266.62" font-size="7.0" text-anchor="start" font-weight="normal" fill="#222" textLength="67.6" lengthAdjust="spacingAndGlyphs">HR = 1.7 (1.39 - 2.09)</text>
<text x="457.7" y="274.82" font-size="7.0" text-anchor="start" font-weight="normal" fill="#222" textLength="62.0" lengthAdjust="spacingAndGlyphs">logrank p = 2.5 × 10</text>
<text x="520.3" y="271.48" font-size="4.4" text-anchor="start" font-weight="normal" fill="#222">-07</text>
<polyline points="408.1,264.2 414.7,265.1 419.3,265.9 422.2,267.3 427.1,268.3 430.4,269.6 433.8,271.6 438.7,273.6 442,275.2 448.2,277 456.4,279.1 464.5,280.3 472.7,281.9 480.9,283.5 489.1,285.7 497.3,287.6 505.5,288.9 515.3,289.3" fill="none" stroke="#111" stroke-width="2.0" stroke-linejoin="round"/>
<polyline points="515.3,289.3 520.2,291.7 523.5,295" fill="none" stroke="#555" stroke-width="1.2" stroke-linejoin="round"/>
<polyline points="408.1,264.2 410.5,264.5 412.3,265.3 416.4,266.9 420.5,269.6 425.5,273.3 428.8,275.8 432.1,278.7 437.1,280.5 440,281.9 444.9,284.4 453.1,288.5 464.5,291.7 472.7,293.4 482.6,295 494,295.8 497.3,297.8 505.5,298.3 523.5,298.3" fill="none" stroke="#f00" stroke-width="2.0" stroke-linejoin="round"/>
<text x="405.2" y="321.98" font-size="6.6" text-anchor="start" font-weight="normal" fill="#555">Expression</text>
<line x1="407.6" y1="327.5" x2="419.6" y2="327.5" stroke="#333" stroke-width="1.3"/>
<text x="424.5" y="330.45" font-size="6.8" text-anchor="start" font-weight="normal" fill="#555">low</text>
<line x1="407.6" y1="334.2" x2="419.6" y2="334.2" stroke="#f22" stroke-width="1.3"/>
<text x="424.5" y="336.65" font-size="6.8" text-anchor="start" font-weight="normal" fill="#555">high</text>
<text x="405" y="345.72" font-size="7.0" text-anchor="start" font-weight="normal" fill="#222">patients at risk</text>
<text x="404.8" y="353.91" font-size="6.7" text-anchor="start" font-weight="normal" fill="#111" stroke="#111" stroke-width="0.1">713</text>
<text x="435.7" y="353.91" font-size="6.7" text-anchor="start" font-weight="normal" fill="#111" stroke="#111" stroke-width="0.1">572</text>
<text x="466.8" y="353.91" font-size="6.7" text-anchor="start" font-weight="normal" fill="#111" stroke="#111" stroke-width="0.1">285</text>
<text x="500.6" y="353.91" font-size="6.7" text-anchor="start" font-weight="normal" fill="#111" stroke="#111" stroke-width="0.1">83</text>
<text x="404.8" y="362.41" font-size="6.7" text-anchor="start" font-weight="normal" fill="#f00" stroke="#f00" stroke-width="0.1">1166</text>
<text x="435.7" y="362.41" font-size="6.7" text-anchor="start" font-weight="normal" fill="#f00" stroke="#f00" stroke-width="0.1">794</text>
<text x="466.8" y="362.41" font-size="6.7" text-anchor="start" font-weight="normal" fill="#f00" stroke="#f00" stroke-width="0.1">268</text>
<text x="501.4" y="362.41" font-size="6.7" text-anchor="start" font-weight="normal" fill="#f00" stroke="#f00" stroke-width="0.1">60</text>
<circle cx="47.7" cy="374.6" r="1.5" fill="#fff" stroke="#555" stroke-width="0.9"/>
<text x="52.6" y="377.62" font-size="8.4" text-anchor="start" font-weight="normal" fill="#222" stroke="#222" stroke-width="0.12">Non Breast Cancer</text>
<circle cx="153.7" cy="374.7" r="1.6" fill="#000"/>
<text x="158.5" y="377.82" font-size="8.4" text-anchor="start" font-weight="normal" fill="#222" stroke="#222" stroke-width="0.12">Breast Cancer</text>
<line x1="239" y1="374.4" x2="249.6" y2="374.4" stroke="#555" stroke-width="0.7"/>
<text x="253.2" y="377.82" font-size="8.4" text-anchor="start" font-weight="normal" fill="#222" stroke="#222" stroke-width="0.12">Correlation of Breast Cancer</text>
</svg></body></html>
